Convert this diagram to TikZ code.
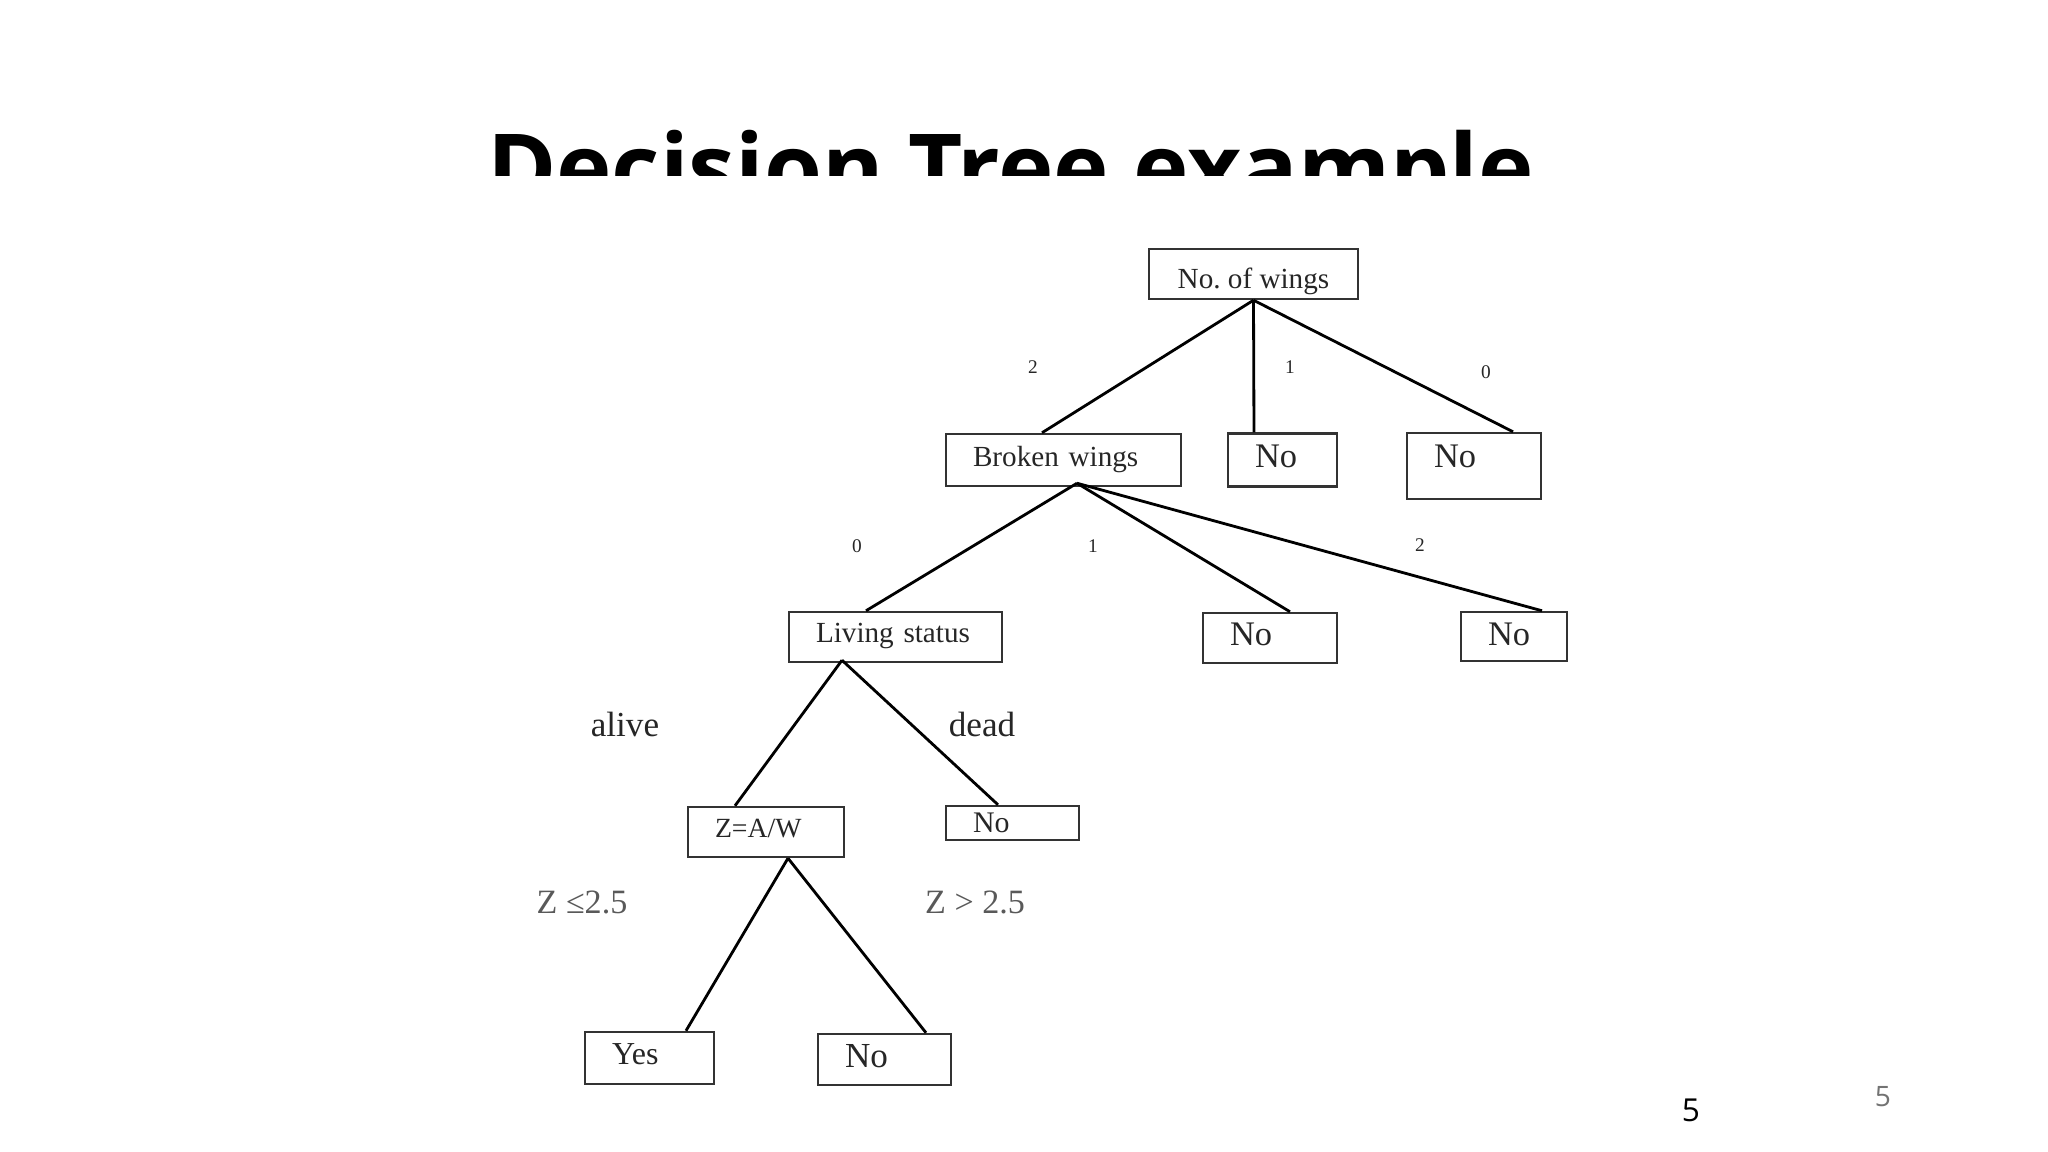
\documentclass[tikz,border=0pt]{standalone}
\usepackage{fontspec}
\setmainfont{Liberation Serif}
\newfontfamily\titlefont{Open Sans}
\usepackage{tikz}
\usetikzlibrary{positioning}
\newcommand{\fsz}[1]{\fontsize{#1}{#1}\selectfont}
\tikzstyle{box} = [rectangle, draw=black!80, line width=0.7pt, inner xsep=0.27cm, inner ysep=0pt, align=left, text depth=0.08cm, text=black!85]
\tikzstyle{val} = [inner sep=0pt, text=black!85]
\tikzstyle{branch} = [line width=0.8pt]

\begin{document}
\frenchspacing
\begin{tikzpicture}[node distance=1.86cm]
				\useasboundingbox (0,0) rectangle (20.48,-11.52);
				% slide title, cut off at the bottom
				\begin{scope}
					\clip (0,0) rectangle (20.48,-1.76);
					\node(title) [anchor=base, inner sep=0pt, font=\titlefont\bfseries\fsz{26.7}] at (10.105,-2.02) {Decision Tree example};
				\end{scope}
				
				\node(root) [box, minimum width=2.09cm, minimum height=0.5cm, text height=0.36cm, text depth=0.06cm, font=\fsz{8.3}] at (12.535,-2.74) {No. of wings};
				
				\node(bw) [box, below of=root, xshift=-1.9cm, text width=1.81cm, minimum height=0.52cm, font=\fsz{8.3}] {Broken wings};
				\node(no1) [box, below of=root, xshift=0.29cm, text width=0.55cm, minimum height=0.53cm, font=\fsz{9.8}] {No};
				\node(no0) [box, below of=root, xshift=2.205cm, yshift=-0.06cm, text width=0.8cm, minimum height=0.66cm, text depth=0.2cm, font=\fsz{9.8}] {No};
				
				\node(ls) [box, below of=bw, xshift=-1.68cm, yshift=0.09cm, text width=1.59cm, minimum height=0.5cm, font=\fsz{8.3}] {Living status};
				\node(nob1) [box, below of=bw, xshift=2.065cm, yshift=0.08cm, text width=0.8cm, minimum height=0.5cm, font=\fsz{9.8}] {No};
				\node(nob2) [box, below of=bw, xshift=4.505cm, yshift=0.095cm, text width=0.52cm, minimum height=0.49cm, text depth=0.04cm, font=\fsz{9.8}] {No};
				
				\node(zaw) [box, below of=ls, xshift=-1.295cm, yshift=-0.09cm, text width=1.02cm, minimum height=0.5cm, font=\fsz{7.9}] {Z=A/W};
				\node(nod) [box, below of=ls, xshift=1.17cm, text width=0.79cm, minimum height=0.34cm, text depth=0cm, font=\fsz{8.5}] {No};
				
				\node(yes) [box, below of=zaw, xshift=-1.165cm, yshift=-0.4cm, text width=0.75cm, minimum height=0.52cm, font=\fsz{9.1}] {Yes};
				\node(nof) [box, below of=zaw, xshift=1.185cm, yshift=-0.415cm, text width=0.79cm, minimum height=0.51cm, font=\fsz{10}] {No};
				
				% branch values
				\node(lab2) [val, font=\fsz{5.5}] at (10.33,-3.67) {2};
				\node(lab1) [val, font=\fsz{5.5}] at (12.90,-3.67) {1};
				\node(lab0) [val, font=\fsz{5.5}] at (14.86,-3.72) {0};
				\node(labb0) [val, font=\fsz{5.5}] at (8.57,-5.46) {0};
				\node(labb1) [val, font=\fsz{5.5}] at (10.93,-5.46) {1};
				\node(labb2) [val, font=\fsz{5.5}] at (14.20,-5.45) {2};
				\node(alive) [val, font=\fsz{10}] at (6.25,-7.24) {alive};
				\node(dead) [val, font=\fsz{10}] at (9.82,-7.24) {dead};
				\node(zle) [val, text=black!65, font=\fsz{9.7}] at (5.82,-9.02) {Z ≤2.5};
				\node(zgt) [val, text=black!65, font=\fsz{9.7}] at (9.75,-9.02) {Z > 2.5};
				
				% page numbers
				\node(pga) [inner sep=0pt, font=\titlefont\fsz{9}] at (16.91,-11.10) {5};
				\node(pgb) [inner sep=0pt, text=black!55, font=\titlefont\fsz{8}] at (18.83,-10.97) {5};
				
				\draw[branch] (root.south) -- ([xshift=-0.215cm]bw.north);
				\draw[branch] (root.south) -- ([xshift=-0.285cm]no1.north);
				\draw[branch] (root.south) -- ([xshift=0.39cm]no0.north);
				\draw[branch] ([shift={(0.135cm,0.04cm)}]bw.south) -- ([xshift=-0.295cm]ls.north);
				\draw[branch] ([shift={(0.135cm,0.04cm)}]bw.south) -- ([xshift=0.2cm]nob1.north);
				\draw[branch] ([shift={(0.135cm,0.04cm)}]bw.south) -- ([xshift=0.28cm]nob2.north);
				\draw[branch] ([shift={(-0.535cm,0.03cm)}]ls.south) -- ([xshift=-0.31cm]zaw.north);
				\draw[branch] ([shift={(-0.535cm,0.03cm)}]ls.south) -- ([xshift=-0.145cm]nod.north);
				\draw[branch] ([xshift=0.22cm]zaw.south) -- ([xshift=0.365cm]yes.north);
				\draw[branch] ([xshift=0.22cm]zaw.south) -- ([xshift=0.415cm]nof.north);
				%		\node(root) [box] at (0,0) {No. of wings};
			\end{tikzpicture}
\end{document}
